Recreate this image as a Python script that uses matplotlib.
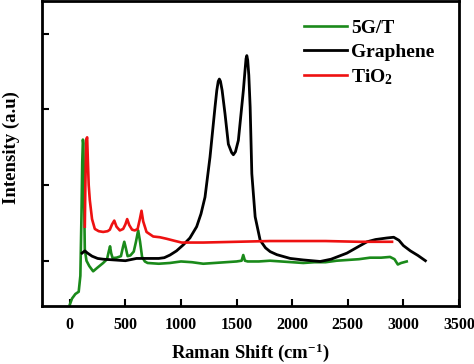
import matplotlib
matplotlib.use("Agg")
import matplotlib.pyplot as plt

plt.rcParams['font.family'] = ['Liberation Serif', 'DejaVu Serif']
plt.rcParams['font.weight'] = 'bold'
plt.rcParams['mathtext.fontset'] = 'custom'
plt.rcParams['mathtext.rm'] = 'Liberation Serif:bold'
plt.rcParams['mathtext.bf'] = 'Liberation Serif:bold'
plt.rcParams['mathtext.default'] = 'bf'

# 5G/T (green)
g_x = [0, 20, 50, 80, 95, 105, 112, 118, 122, 128, 135, 150, 175, 210, 250, 300, 335, 350, 362, 372, 385,
       420, 460, 478, 490, 502, 520, 545, 575, 595, 615, 632, 650, 675, 700, 800, 900, 1000, 1100, 1200,
       1300, 1400, 1500, 1545, 1560, 1575, 1600, 1700, 1800, 1900, 2000, 2100, 2200, 2300, 2400, 2500,
       2600, 2700, 2800, 2880, 2920, 2950, 2980, 3030]
g_y = [-0.58, -0.5, -0.44, -0.41, -0.2, 0.6, 1.3, 1.6, 1.55, 0.9, 0.15, 0.0, -0.07, -0.14, -0.09, -0.03, 0.02, 0.12, 0.19, 0.1, 0.035,
       0.04, 0.06, 0.18, 0.25, 0.18, 0.06, 0.07, 0.12, 0.25, 0.4, 0.25, 0.05, -0.01, -0.03, -0.04, -0.03, -0.01, -0.02, -0.04,
       -0.03, -0.02, -0.01, 0.0, 0.075, 0.0, -0.01, -0.01, 0.0, -0.01, -0.02, -0.03, -0.02, -0.02, 0.0, 0.01,
       0.02, 0.04, 0.04, 0.05, 0.02, -0.05, -0.03, -0.01]

# Graphene (black)
k_x = [110, 135, 160, 200, 250, 300, 400, 500, 600, 700, 800, 850, 901, 960, 1021, 1080, 1141, 1180, 1216,
       1261, 1306, 1322, 1335, 1345, 1355, 1370, 1396, 1426, 1455, 1471, 1490, 1516, 1561, 1575, 1585, 1592,
       1600, 1610, 1622, 1637, 1667, 1712, 1760, 1802, 1862, 1982, 2100, 2252, 2350, 2492, 2600, 2673,
       2750, 2850, 2913, 2960, 3000, 3063, 3130, 3198]
k_y = [0.1, 0.13, 0.1, 0.06, 0.03, 0.02, 0.01, 0.0, 0.03, 0.03, 0.03, 0.04, 0.075, 0.13, 0.21, 0.3, 0.45, 0.62, 0.84,
       1.37, 2.03, 2.25, 2.37, 2.4, 2.37, 2.25, 1.94, 1.54, 1.43, 1.4, 1.44, 1.59, 2.25, 2.5, 2.67, 2.71,
       2.65, 2.45, 2.03, 1.15, 0.58, 0.27, 0.17, 0.12, 0.08, 0.03, 0.01, -0.01, 0.02, 0.1, 0.19, 0.25,
       0.28, 0.3, 0.31, 0.27, 0.2, 0.13, 0.07, 0.0]

# TiO2 (red)
r_x = [135, 140, 148, 156, 163, 170, 180, 200, 225, 260, 300, 340, 360, 380, 400, 420, 450, 480, 500, 516,
       535, 560, 585, 610, 630, 645, 660, 690, 750, 810, 870, 950, 1006, 1200, 1500, 1800, 2000, 2300,
       2600, 2898]
r_y = [0.45, 1.0, 1.6, 1.63, 1.3, 1.0, 0.8, 0.55, 0.42, 0.39, 0.38, 0.39, 0.41, 0.48, 0.53, 0.45, 0.4, 0.42, 0.48, 0.55,
       0.47, 0.41, 0.4, 0.42, 0.55, 0.66, 0.52, 0.38, 0.32, 0.31, 0.29, 0.26, 0.24, 0.24, 0.25, 0.26, 0.26, 0.26,
       0.25, 0.25]

x_ticks = [0, 500, 1000, 1500, 2000, 2500, 3000, 3500]
y_ticks = [0, 1, 2, 3]

fig = plt.figure(figsize=(4.74, 3.64), dpi=100)
ax = fig.add_axes([0.0886, 0.159, 0.8797, 0.838])

ax.plot(g_x, g_y, color='#1a8a1a', lw=1.9, label='5G/T')
ax.plot(k_x, k_y, color='black', lw=2.0, label='Graphene')
ax.plot(r_x, r_y, color='#ee1111', lw=1.9, label='TiO$_2$')

ax.set_xlim(-250, 3500)
ax.set_ylim(-0.6, 3.43)
ax.set_xticks(x_ticks)
ax.set_xticklabels([str(t) for t in x_ticks], fontsize=11.5, fontweight='bold')
ax.set_yticks(y_ticks)
ax.set_yticklabels([])
ax.tick_params(direction='in', length=5, width=1.5, top=False, right=False, pad=8)
for s in ax.spines.values():
    s.set_linewidth(2)

ax.set_xlabel('Raman Shift (cm$^{-1}$)', fontsize=13.5, fontweight='bold')
ax.xaxis.set_label_coords(0.5, -0.115)
ax.set_ylabel('Intensity (a.u)', fontsize=13.5, fontweight='bold')
ax.yaxis.set_label_coords(-0.053, 0.52)

leg = ax.legend(loc='upper left', bbox_to_anchor=(0.61, 0.965), frameon=False, fontsize=14,
                handlelength=2.2, handletextpad=0.2, labelspacing=0.32, borderaxespad=0)

fig.savefig('out.png', dpi=100)
